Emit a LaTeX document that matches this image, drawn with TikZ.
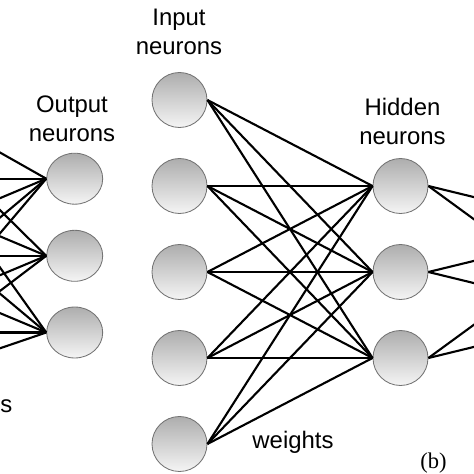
\documentclass[tikz,border=0pt]{standalone}
\usepackage{fontspec}
\setmainfont{Liberation Sans}
\newfontfamily\seriffam{Liberation Serif}
\usetikzlibrary{shapes.geometric}

\tikzset{
  neuron/.style={circle, draw=black!55, line width=0.6pt, top color=black!32, bottom color=black!4, minimum size=1.375cm, inner sep=0pt},
  outneuron/.style={ellipse, draw=black!55, line width=0.6pt, top color=black!32, bottom color=black!4, minimum width=1.4cm, minimum height=1.275cm, inner sep=0pt},
  wire/.style={line width=1.5pt},
  lbl/.style={align=center, font=\fontsize{17}{20.6}\selectfont}
}

\begin{document}
\begin{tikzpicture}
            \useasboundingbox (0,0) rectangle (11.850000,11.850000);
            \clip (0,0) rectangle (11.850000,11.850000);

            % Marking output neurons (left network)
            \node [outneuron] (out1) at (1.867500,7.382500) {};%
            \node [outneuron] (out2) at (1.867500,5.455000) {};%
            \node [outneuron] (out3) at (1.867500,3.537500) {};%

            % Sources of the left network, outside the picture
            \coordinate (src1) at (-3.425000,9.975000);%
            \coordinate (src2) at (-3.425000,7.382500);%
            \coordinate (src3) at (-3.425000,5.455000);%
            \coordinate (src4) at (-3.425000,3.537500);%
            \coordinate (src5) at (-3.425000,1.975000);%

            % Marking input neurons
            \node [neuron] (in1) at (4.487500,9.350000) {};%
            \node [neuron] (in2) at (4.487500,7.200000) {};%
            \node [neuron] (in3) at (4.487500,5.050000) {};%
            \node [neuron] (in4) at (4.487500,2.900000) {};%
            \node [neuron] (in5) at (4.487500,0.750000) {};%

            % Marking hidden neurons
            \node [neuron] (hid1) at (10.012500,7.200000) {};%
            \node [neuron] (hid2) at (10.012500,5.050000) {};%
            \node [neuron] (hid3) at (10.012500,2.900000) {};%

            % Targets of the hidden neurons, outside the picture
            \coordinate (trg1) at (15.125000,6.125000);%
            \coordinate (trg2) at (15.125000,3.975000);%

            % Drawing weights into the output neurons
            \foreach \s in {1,...,5} {
              \foreach \o in {1,2,3} {
                \draw [wire] (src\s) -- (out\o.west);%
              }
            }

            % Drawing weights from input to hidden neurons
            \foreach \i in {1,...,5} {
              \foreach \h in {1,2,3} {
                \draw [wire] (in\i.east) -- (hid\h.west);%
              }
            }

            % Drawing weights from hidden neurons to the right
            \foreach \h in {1,2,3} {
              \draw [wire] (hid\h.east) -- (trg1);%
              \draw [wire] (hid\h.east) -- (trg2);%
            }

            % Labels
            \node [lbl] (inlbl) at (4.475000,11.050000) {Input\\neurons};%
            \node [lbl] (outlbl) at (1.800000,8.875000) {Output\\neurons};%
            \node [lbl] (hidlbl) at (10.062500,8.825000) {Hidden\\neurons};%
            \node [lbl, anchor=base] (wlbl) at (7.325000,0.650000) {weights};%
            \node [lbl, anchor=base west, inner sep=0pt] (slbl) at (0.000000,1.525000) {s};%
            \node [anchor=base, font=\seriffam\fontsize{16}{19}\selectfont] (blbl) at (10.837500,0.150000) {(b)};%
\end{tikzpicture}
\end{document}
